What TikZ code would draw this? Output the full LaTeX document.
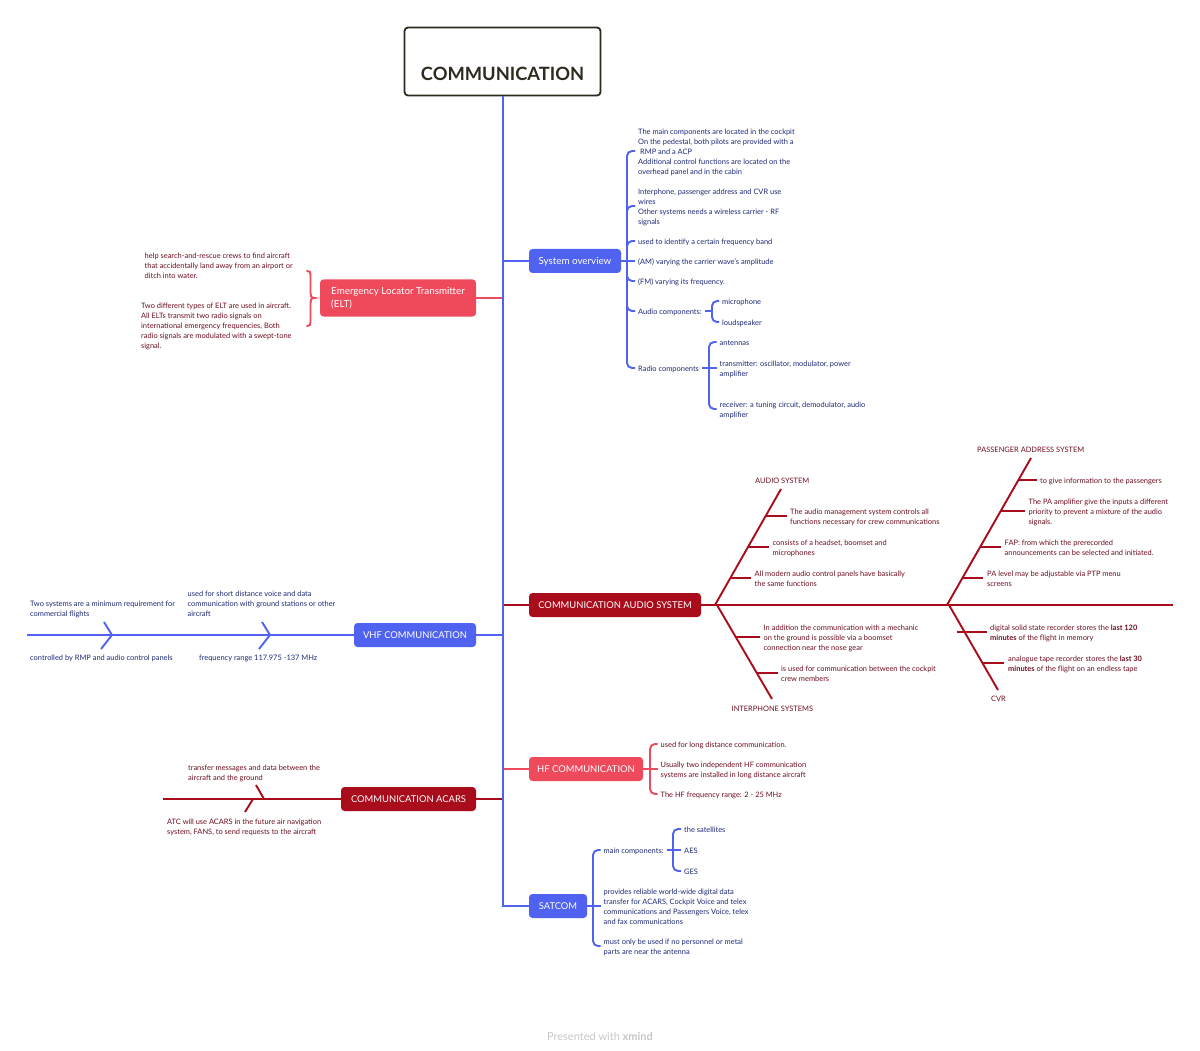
\documentclass[tikz,border=0pt]{standalone}
\usepackage{fontspec}
\setmainfont{Lato}
\definecolor{cblue}{HTML}{4F63F0}
\definecolor{cred}{HTML}{EF4A5C}
\definecolor{cdark}{HTML}{A90D1C}
\definecolor{tblue}{HTML}{1F2A78}
\definecolor{tred}{HTML}{6E0F20}
\definecolor{ink}{HTML}{2E2A1E}
\newcommand{\leaffont}{\fontsize{7.45}{10}\selectfont}
\newcommand{\lnA}{\rule{0pt}{8.5pt}}
\newcommand{\lnZ}{\rule[-2pt]{0pt}{0pt}}
\tikzset{
  x=1pt,y=-1pt,
  topic/.style={rounded corners=3.5,inner sep=0pt,text=white,font=\fontsize{9.8}{12.5}\selectfont,align=left},
  caps/.style={topic,font=\fontsize{9.4}{12.5}\selectfont},
  leaf/.style={inner sep=3pt,anchor=west,align=left,font=\leaffont},
  bl/.style={leaf,text=tblue},
  rd/.style={leaf,text=tred},
  lnb/.style={draw=cblue,line width=1.9pt,rounded corners=5pt},
  lnl/.style={draw=cred,line width=1.9pt,rounded corners=5pt},
  lnd/.style={draw=cdark,line width=1.9pt},
}
\begin{document}
\begin{tikzpicture}
\useasboundingbox (0,0) rectangle (1200,1051);
\fill[white] (0,0) rectangle (1200,1051);

% trunk
\node[draw=ink,line width=1.8pt,rounded corners=3.5,minimum width=196pt,minimum height=68pt,inner sep=0pt,fill=white] (root) at (502.5,61.5) {};
\node[inner sep=0pt,text=ink,font=\fontsize{18.3}{22}\selectfont\bfseries] (roottxt) at (502.5,74) {COMMUNICATION};

% main topics
\node[topic,fill=cblue,minimum width=92pt,minimum height=24pt] (sys) at (575,261) {\lnA System overview\lnZ};
\node[topic,fill=cred,minimum width=156pt,minimum height=37pt] (elt) at (398,298) {Emergency Locator Transmitter\\(ELT)};
\node[caps,fill=cdark,minimum width=172pt,minimum height=24pt] (aud) at (615,605) {\lnA COMMUNICATION AUDIO SYSTEM\lnZ};
\node[caps,fill=cblue,minimum width=122pt,minimum height=24pt] (vhf) at (415,635) {\lnA VHF COMMUNICATION\lnZ};
\node[caps,fill=cred,minimum width=114pt,minimum height=24pt] (hf) at (586,769) {\lnA HF COMMUNICATION\lnZ};
\node[caps,fill=cdark,minimum width=135pt,minimum height=24pt] (aca) at (408.5,799) {\lnA COMMUNICATION ACARS\lnZ};
\node[caps,fill=cblue,minimum width=58pt,minimum height=24pt] (sat) at (558,906) {\lnA SATCOM\lnZ};

% trunk connectors
\coordinate (tk1) at (502.6,906);
\draw[draw=cred,line width=1.9pt] (elt.east) -- (tk1 |- elt.east);
\draw[draw=cdark,line width=1.9pt] (tk1 |- aud.west) -- (aud.west);
\draw[draw=cblue,line width=1.9pt] (vhf.east) -- (tk1 |- vhf.east);
\draw[draw=cred,line width=1.9pt] (tk1 |- hf.west) -- (hf.west);
\draw[draw=cdark,line width=1.9pt] (aca.east) -- (tk1 |- aca.east);
\draw[draw=cblue,line width=1.9pt] (tk1 |- sys.west) -- (sys.west);
\draw[draw=cblue,line width=2.2pt] (root.south -| tk1) -- (tk1) -- (sat.west);

% system overview
\node[bl] (s1) at (635,151) {\lnA The main components are located in the cockpit\\On the pedestal, both pilots are provided with a\\\hspace*{2pt}RMP and a ACP\\Additional control functions are located on the\\overhead panel and in the cabin\lnZ};
\node[bl] (s2) at (635,206) {\lnA Interphone, passenger address and CVR use\\wires\\Other systems needs a wireless carrier - RF\\signals\lnZ};
\node[bl] (s3) at (635,241) {\lnA used to identify a certain frequency band\lnZ};
\node[bl] (s4) at (635,261) {\lnA (AM) varying the carrier wave's amplitude\lnZ};
\node[bl] (s5) at (635,281) {\lnA (FM) varying its frequency.\lnZ};
\node[bl] (s6) at (635,311) {\lnA Audio components:\lnZ};
\node[bl] (s7) at (635,368) {\lnA Radio components\lnZ};
\coordinate (sj) at (627,261);
\draw[lnb] (sys.east) -- (s4.west);
\foreach \n in {s1,s2,s3,s5,s6,s7} \draw[lnb] (\n.west) -| (sj);

\node[bl] (a1) at (719,301) {\lnA microphone\lnZ};
\node[bl] (a2) at (719,322) {\lnA loudspeaker\lnZ};
\coordinate (aj) at (712,311);
\draw[lnb] (s6.east) -- (aj);
\draw[lnb] (a1.west) -| (aj);
\draw[lnb] (a2.west) -| (aj);

\node[bl] (r1) at (716.5,342) {\lnA antennas\lnZ};
\node[bl] (r2) at (716.5,368) {\lnA transmitter: oscillator, modulator, power\\amplifier\lnZ};
\node[bl] (r3) at (716.5,409) {\lnA receiver: a tuning circuit, demodulator, audio\\amplifier\lnZ};
\coordinate (rj) at (709,368);
\draw[lnb] (s7.east) -- (r2.west);
\draw[lnb] (r1.west) -| (rj);
\draw[lnb] (r3.west) -| (rj);

% ELT
\node[rd] (e1) at (141.5,265) {\lnA help search-and-rescue crews to find aircraft\\that accidentally land away from an airport or\\ditch into water.\lnZ};
\node[rd] (e2) at (138,325) {\lnA Two different types of ELT are used in aircraft.\\All ELTs transmit two radio signals on\\international emergency frequencies, Both\\radio signals are modulated with a swept-tone\\signal.\lnZ};
\coordinate (et) at (307,271);
\coordinate (eb) at (307,326);
\coordinate (etip) at (314.5,298);
\draw[draw=cred,line width=1.9pt,line cap=round] (et) .. controls (310,271) and (310.5,272) .. (310.5,275) -- (310.5,293) .. controls (310.5,296) and (311,298) .. (etip) .. controls (311,298) and (310.5,300) .. (310.5,303) -- (310.5,322) .. controls (310.5,325) and (310,326) .. (eb);

% HF
\node[rd] (h1) at (657.5,744) {\lnA used for long distance communication.\lnZ};
\node[rd] (h2) at (657.5,769) {\lnA Usually two independent HF communication\\systems are installed in long distance aircraft\lnZ};
\node[rd] (h3) at (657.5,794) {\lnA The HF frequency range: 2 - 25 MHz\lnZ};
\coordinate (hj) at (650,769);
\draw[lnl] (hf.east) -- (h2.west);
\draw[lnl] (h1.west) -| (hj);
\draw[lnl] (h3.west) -| (hj);

% SATCOM
\node[bl] (c1) at (600.5,850) {\lnA main components:\lnZ};
\node[bl] (c2) at (600.5,906) {\lnA provides reliable world-wide digital data\\transfer for ACARS, Cockpit Voice and telex\\communications and Passengers Voice, telex\\and fax communications\lnZ};
\node[bl] (c3) at (600.5,946) {\lnA must only be used if no personnel or metal\\parts are near the antenna\lnZ};
\coordinate (cj) at (593,906);
\draw[lnb] (sat.east) -- (c2.west);
\draw[lnb] (c1.west) -| (cj);
\draw[lnb] (c3.west) -| (cj);
\node[bl] (m1) at (681,829) {\lnA the satellites\lnZ};
\node[bl] (m2) at (681,850) {\lnA AES\lnZ};
\node[bl] (m3) at (681,871) {\lnA GES\lnZ};
\coordinate (mj) at (673,850);
\draw[lnb] (c1.east) -- (m2.west);
\draw[lnb] (m1.west) -| (mj);
\draw[lnb] (m3.west) -| (mj);

% VHF fishbone
\coordinate (vend) at (27,635);
\coordinate (vt1) at (112,635);
\coordinate (vt2) at (270,635);
\draw[draw=cblue,line width=1.9pt] (vend) -- (vhf.west);
\draw[draw=cblue,line width=1.9pt] (104,622) -- (vt1) -- (101,649);
\draw[draw=cblue,line width=1.9pt] (262,622) -- (vt2) -- (259,649);
\node[bl] (v1) at (27,608) {\lnA Two systems are a minimum requirement for\\commercial flights\lnZ};
\node[bl] (v2) at (27,657) {\lnA controlled by RMP and audio control panels\lnZ};
\node[bl] (v3) at (184.5,603) {\lnA used for short distance voice and data\\communication with ground stations or other\\aircraft\lnZ};
\node[bl] (v4) at (196,657) {\lnA frequency range 117.975 -137 MHz\lnZ};

% ACARS fishbone
\coordinate (aend) at (163,799);
\draw[lnd] (aend) -- (aca.west);
\draw[lnd] (256,785) -- (264,799);
\draw[lnd] (245,812) -- (253,799);
\node[rd] (k1) at (185,772) {\lnA transfer messages and data between the\\aircraft and the ground\lnZ};
\node[rd] (k2) at (164,826) {\lnA ATC will use ACARS in the future air navigation\\system, FANS, to send requests to the aircraft\lnZ};

% Audio fishbone
\coordinate (fs) at (715,605);
\coordinate (fe) at (1173,605);
\draw[lnd] (aud.east) -- (fe);
\draw[lnd] (fs) -- (781,489);
\draw[lnd] (717,605) -- (772,699);
\draw[lnd] (947,605) -- (1031,458);
\draw[lnd] (949,605) -- (998,690);
\foreach \a/\b/\y in {766/787/516,748/769/547,730/751/578,1019/1037/480,1001/1025/511,980/1001/547,962/983/578,736/760/637,757/778/673,957/987/632,983/1004/663}
  \draw[lnd] (\a,\y) -- (\b,\y);

\node[rd] (b1) at (752,480) {\lnA AUDIO SYSTEM\lnZ};
\node[rd] (b2) at (787,516) {\lnA The audio management system controls all\\functions necessary for crew communications\lnZ};
\node[rd] (b3) at (769.5,547) {\lnA consists of a headset, boomset and\\microphones\lnZ};
\node[rd] (b4) at (751.5,578) {\lnA All modern audio control panels have basically\\the same functions\lnZ};
\node[rd] (b5) at (974,449) {\lnA PASSENGER ADDRESS SYSTEM\lnZ};
\node[rd] (b6) at (1037,480) {\lnA to give information to the passengers\lnZ};
\node[rd] (b7) at (1025.5,511) {\lnA The PA amplifier give the inputs a different\\priority to prevent a mixture of the audio\\signals.\lnZ};
\node[rd] (b8) at (1001.5,547) {\lnA FAP: from which the prerecorded\\announcements can be selected and initiated.\lnZ};
\node[rd] (b9) at (984,578) {\lnA PA level may be adjustable via PTP menu\\screens\lnZ};
\node[rd] (b10) at (760.5,637) {\lnA In addition the communication with a mechanic\\on the ground is possible via a boomset\\connection near the nose gear\lnZ};
\node[rd] (b11) at (778,673) {\lnA is used for communication between the cockpit\\crew members\lnZ};
\node[rd] (b12) at (728.5,708) {\lnA INTERPHONE SYSTEMS\lnZ};
\node[rd] (b13) at (987,632) {\lnA digital solid state recorder stores the \textbf{last 120}\\\textbf{minutes} of the flight in memory\lnZ};
\node[rd] (b14) at (1005,663) {\lnA analogue tape recorder stores the \textbf{last 30}\\\textbf{minutes} of the flight on an endless tape\lnZ};
\node[rd] (b15) at (988,698) {\lnA CVR\lnZ};

% footer
\node[inner sep=0pt,text=black!22,font=\fontsize{11}{13}\selectfont] (foot) at (600,1036) {Presented with \textbf{xmind}};
\end{tikzpicture}
\end{document}
